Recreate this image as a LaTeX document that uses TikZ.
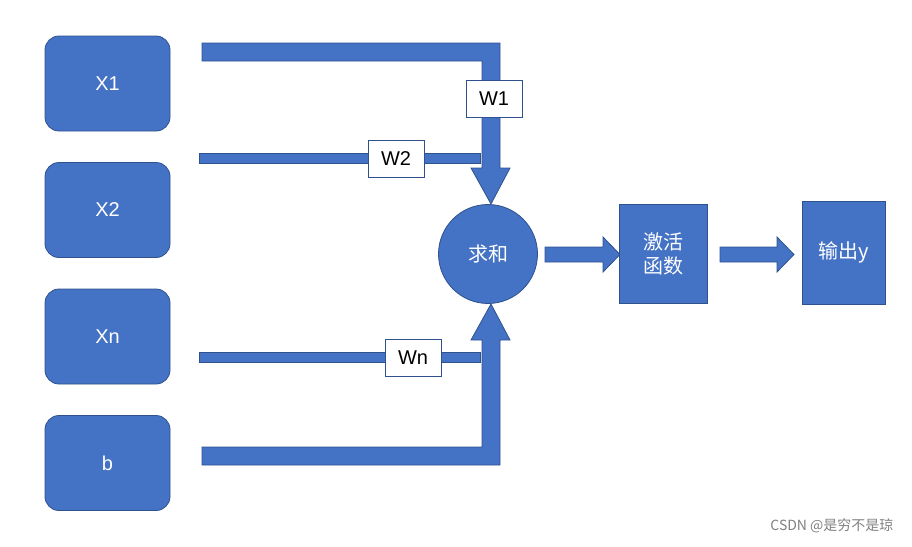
\documentclass[tikz,border=0pt]{standalone}
\usepackage{fontspec}
\setmainfont{Liberation Sans}
\newfontfamily\cjk{Noto Sans CJK SC}
\definecolor{bfill}{HTML}{4472C4}
\definecolor{bdraw}{HTML}{2F528F}
\begin{document}
\begin{tikzpicture}[x=1pt,y=-1pt,
  inp/.style={draw=bdraw,fill=bfill,rounded corners=14pt,minimum width=125pt,minimum height=95pt,text=white,font=\fontsize{20}{24}\selectfont,line width=0.8pt},
  blk/.style={draw=bdraw,fill=bfill,line width=0.8pt},
  wbox/.style={draw=bdraw,fill=white,minimum width=56pt,minimum height=37pt,font=\fontsize{20}{24}\selectfont,line width=0.8pt,inner sep=0pt},
  sq/.style={draw=bdraw,fill=bfill,text=white,font=\fontsize{20}{24}\selectfont\cjk,line width=0.8pt,align=center,inner sep=0pt}]
\useasboundingbox (0,0) rectangle (912,546);
\node[inp] (x1) at (107.5,83.5) {X1};
\node[inp] (x2) at (107.5,210) {X2};
\node[inp] (xn) at (107.5,336.5) {Xn};
\node[inp] (b) at (107.5,463) {b};
% top bent arrow
\path[blk] (202,43) -- (500,43) -- (500,168) -- (510,168) -- (491,204) -- (471,168) -- (482,168) -- (482,61) -- (202,61) -- cycle;
% bottom bent arrow
\path[blk] (202,465) -- (500,465) -- (500,340) -- (510,340) -- (491,304) -- (471,340) -- (482,340) -- (482,447) -- (202,447) -- cycle;
% thin lines
\path[blk] (199,153) rectangle (480,163);
\path[blk] (199,352) rectangle (480,362);
\node[sq,circle,minimum size=99pt] (sum) at (488,254) {求和};
\node[wbox] (w1) at (494,98.5) {W1};
\node[wbox] (w2) at (396,159) {W2};
\node[wbox] (wn) at (413,358) {Wn};
\node[sq,minimum width=88pt,minimum height=99pt] (act) at (663,253.5) {激活\\函数};
\node[sq,minimum width=83pt,minimum height=103pt] (out) at (843.5,252.5) {输出y};
\path[blk] (545,247) -- (603,247) -- (603,237) -- (620,254.5) -- (603,272) -- (603,262) -- (545,262) -- cycle;
\path[blk] (720,247) -- (777,247) -- (777,237) -- (794,254.5) -- (777,272) -- (777,262) -- (720,262) -- cycle;
\node[text=gray,font=\fontsize{14}{16}\selectfont\cjk,anchor=east] (wm) at (897,526) {CSDN @是穷不是琼};
\end{tikzpicture}
\end{document}
